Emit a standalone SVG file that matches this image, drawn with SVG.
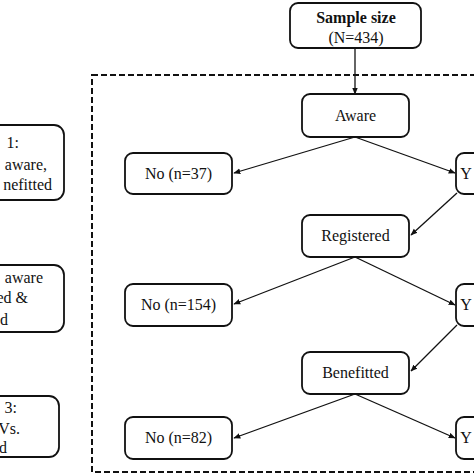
<svg xmlns="http://www.w3.org/2000/svg" width="474" height="474" viewBox="0 0 474 474">
<style>
.box{fill:#fff;stroke:#111;stroke-width:1.8}
.t{font-family:"Liberation Serif",serif;font-size:16px;fill:#111;text-anchor:middle}
.tb{font-family:"Liberation Serif",serif;font-size:16px;font-weight:bold;fill:#111;text-anchor:middle}
.te{font-family:"Liberation Serif",serif;font-size:16px;fill:#111;text-anchor:end}
.c{stroke:#111;stroke-width:1.3;fill:none;marker-end:url(#ah)}
</style>
<defs>
<marker id="ah" viewBox="0 0 10 10" refX="9" refY="5" markerWidth="7" markerHeight="7" markerUnits="userSpaceOnUse" orient="auto">
<path d="M0,1 L10,5 L0,9 z" fill="#111"/>
</marker>
</defs>
<rect width="474" height="474" fill="#fff"/>
<rect id="frame" x="92" y="75" width="400" height="397" fill="none" stroke="#111" stroke-width="2" stroke-dasharray="6,3"/>
<g id="connectors">
<line class="c" x1="355" y1="48" x2="355" y2="94"/>
<line class="c" x1="355" y1="137" x2="234" y2="173"/>
<line class="c" x1="355" y1="137" x2="455" y2="173"/>
<line class="c" x1="457" y1="193" x2="411" y2="235"/>
<line class="c" x1="355" y1="257" x2="234" y2="304"/>
<line class="c" x1="355" y1="257" x2="455" y2="305"/>
<line class="c" x1="457" y1="325" x2="411" y2="371"/>
<line class="c" x1="355" y1="394" x2="234" y2="438"/>
<line class="c" x1="355" y1="394" x2="455" y2="438"/>
</g>
<g id="sample"><rect class="box" x="290" y="3" width="131" height="45" rx="8"/><text class="tb" x="356" y="23">Sample size</text><text class="t" x="356" y="43">(N=434)</text></g>
<g id="aware"><rect class="box" x="302" y="94" width="107" height="43" rx="8"/><text class="t" x="355.5" y="121">Aware</text></g>
<g id="no1"><rect class="box" x="125" y="153" width="107" height="41" rx="8"/><text class="t" x="178.5" y="179">No (n=37)</text></g>
<g id="yes1"><rect class="box" x="456" y="153" width="60" height="41" rx="8"/><text class="t" x="466" y="179">Y</text></g>
<g id="registered"><rect class="box" x="302" y="215" width="107" height="42" rx="8"/><text class="t" x="355.5" y="241">Registered</text></g>
<g id="no2"><rect class="box" x="125" y="284" width="107" height="42" rx="8"/><text class="t" x="178.5" y="310">No (n=154)</text></g>
<g id="yes2"><rect class="box" x="456" y="284" width="60" height="42" rx="8"/><text class="t" x="466" y="310">Y</text></g>
<g id="benefitted"><rect class="box" x="302" y="352" width="107" height="42" rx="8"/><text class="t" x="355.5" y="378">Benefitted</text></g>
<g id="no3"><rect class="box" x="125" y="417" width="107" height="42" rx="8"/><text class="t" x="178.5" y="443">No (n=82)</text></g>
<g id="yes3"><rect class="box" x="456" y="417" width="60" height="42" rx="8"/><text class="t" x="466" y="443">Y</text></g>
<g id="cat1"><rect class="box" x="-40" y="125" width="104" height="75" rx="10"/><text class="te" x="19" y="148">1:</text><text class="te" x="47" y="170">aware,</text><text class="te" x="52" y="190">nefitted</text></g>
<g id="cat2"><rect class="box" x="-40" y="265" width="104" height="67" rx="10"/><text class="te" x="43" y="283">aware</text><text class="te" x="28" y="303">ed &amp;</text><text class="te" x="8" y="325">d</text></g>
<g id="cat3"><rect class="box" x="-40" y="396" width="99" height="61" rx="10"/><text class="te" x="17" y="413">3:</text><text class="te" x="20" y="434">Vs.</text><text class="te" x="7" y="453">d</text></g>
</svg>
